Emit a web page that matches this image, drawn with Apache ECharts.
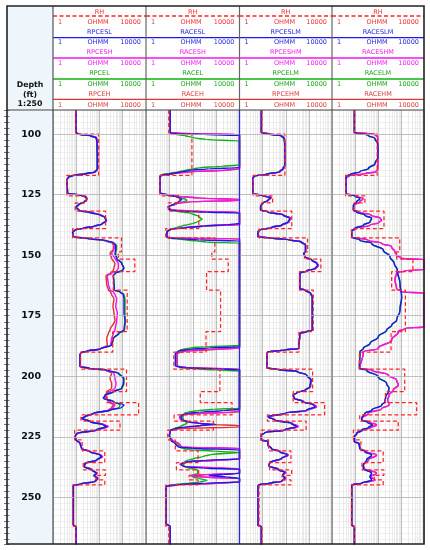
<!DOCTYPE html>
<html><head><meta charset="utf-8">
<script src="https://cdn.jsdelivr.net/npm/echarts/dist/echarts.min.js"></script>
<style>html,body{margin:0;padding:0;background:#fff}#c{width:430px;height:550px}</style>
</head><body><div id="c"></div>
<script>
// ---------- DATA ----------
const depthLabels = [100, 125, 150, 175, 200, 225, 250];
const depthMin = 90, depthMax = 269.3;

// RH (formation model, step curve shared by all tracks)
const rhTop = [90,100,117,125.5,128.4,131.8,139,142.8,148.6,151.6,156.8,164.4,181.6,190,197.1,206.4,210.9,216,218.5,222.3,226.3,230.8,235.7,238.7,241,242.8,244.9,262];
const rhVal = [9.4,92,3.9,27,9,182,7,880,650,3300,390,1550,370,15.5,1450,210,4800,16,760,8.5,18,168,20,180,70,168,7,9.4];
const rhBottom = 269.5;

// Track 1: RPCE* curves
const D1 = [90,99.3,100,100.6,101.5,103,110,114.5,115.6,116.3,117,117.7,119,124.3,125.3,126,127,128,129,130.2,131.6,132.3,133.3,134.4,135.8,137.1,138.1,138.8,139.6,140.5,142.3,143.2,143.9,144.9,146,147.5,149.3,151.3,153.4,155.3,156.2,157.5,158.4,161.9,164.4,165.2,166.2,168,171,174,177,180.9,182.3,184.4,187.1,188.8,189.5,190.3,191,196,196.8,197.4,198.8,200.9,203,205,206.4,207.8,209.1,210.5,211.9,212.9,214,215.3,216.7,217.4,218.8,220.1,220.8,222.2,223.6,225,226.3,227.7,229.8,231.2,232.5,233.2,234.6,236,237.3,238.7,240.1,241,242.2,243.5,244.5,245.2,261.5,262.2,269.5];
const RPCESL = [9.8,9.8,12,40,72,78,80,80,64,28, 8,4.6,3.9,4.2,16,26,28,22,13,9.8, 14,39,105,170,190,124,54,20,8.8,7, 7.2,40,200,420,500,500,464,548,900,1130, 1000,464,393,420,430,760,1060,1130,1130,1130, 1250,1130,646,393,334,105,30,16,14.5,14.5, 39,203,646,1130,1060,898,393,173,146,393, 1132,898,283,54,23.8,17,39,146,203,75, 10.4,8.8,9.8,14.5,17,39,105,124,75,23.8, 21.5,46,75,58,81,64,14.5,7.5,7.5,9.8,9.8];
const RPCESH = [9.8,9.8,14,45,75,80,82,82,66,30, 8,4.6,3.9,4.2,17,28,29,22,13,9.8, 14,42,115,180,200,130,58,21,8.8,7, 7.2,40,190,380,464,420,334,464,646,646, 585,334,217,240,283,400,464,548,500,585, 548,464,393,334,300,105,30,16,14.5,14.5, 39,190,420,464,513,464,283,173,190,283, 464,393,240,56,24,17,42,173,240,85, 11,8.8,9.8,15,17,42,115,135,80,25, 22,50,80,62,86,68,15,7.5,7.5,9.8,9.8];
const RPCEL = [9.8,9.8,12,38,70,78,80,80,60,22, 7,4.5,3.9,4.3,17,27,28,21,12,9.8, 13,35,100,175,200,135,60,22,9,7, 7.2,30,150,400,540,540,500,560,950,1060, 950,480,400,430,440,800,1130,1250,1250,1250, 1300,1200,700,400,340,110,32,17,14.5,14.5, 35,180,700,1060,1130,950,420,180,160,420, 762,700,300,60,25,17,40,150,190,70, 10.4,8.8,9.8,14.5,17,38,100,118,72,23, 21,45,72,56,78,60,14,7.5,7.5,9.8,9.8];
const RPCEH = [9.8,9.8,14,45,75,80,82,82,66,30, 8,4.6,3.9,4.2,17,28,29,22,13,9.8, 14,42,115,180,200,130,58,21,8.8,7, 7.2,40,180,350,400,393,283,334,464,420, 393,283,190,203,240,300,334,420,380,420, 464,283,240,203,217,100,30,16,14.5,14.5, 39,180,334,283,334,334,203,190,203,240, 393,334,240,56,24,17,42,173,230,85, 11,8.8,9.8,15,17,42,115,135,80,25, 22,50,80,62,86,68,15,7.5,7.5,9.8,9.8];

// Track 2: RACE* curves
const D2 = [90,99.3,99.7,100.1,100.5,101.5,102.2,102.8,112.7,113.3,113.8,114.3,114.9,115.5,116.2,116.9,117.6,124.3,125.1,125.7,126.4,126.9,127.4,127.9,128.6,130,131.3,131.8,132.2,132.6,134,135.1,136.3,136.9,137.4,137.9,138.5,139.3,140.2,142.4,142.9,143.2,143.7,144.1,144.6,145,187.3,187.8,188.3,188.9,189.6,190.6,195.8,196.5,197,197.4,197.9,213.3,213.6,214.2,214.8,215.3,216,217,218,218.8,219.5,219.9,220.4,221,221.6,222.4,224.6,226.6,227.6,228.5,229.3,229.8,230.4,231,231.5,232.3,233.2,234.2,234.7,235.3,236.3,237.3,238,238.4,239.4,240.1,240.6,241,241.6,242.2,243,243.7,244.2,244.8,245.5,261,262,269.5];
const RACESL = [10.8,10.8,14,300,10000,10000,10000,10000,10000,10000, 10000,500,80,35,15,4.5,4,4,8,18, 28,34,30,25,17,9,10,30,400,10000, 10000,10000,10000,10000,3000,300,60,12,8,7.7, 10,30,200,10000,10000,10000,10000,10000,500,60, 25,18,18,40,2000,10000,10000,10000,10000,2000, 200,60,35,32,35,60,200,930,200,40, 18,11,10,12,17,20,25,100,10000,10000, 10000,10000,10000,10000,300,60,32,40,300,10000, 10000,10000,2000,500,3000,10000,10000,10000,300,20, 7.2,7.2,10.8,10.8];
const RACEL = [10.8,10.8,12,20,45,110,400,10000,10000,1500, 200,110,50,25,10,4.2,4,4,8,20, 35,50,56,40,20,9,10,20,40,80, 180,250,150,100,60,35,20,10,7.7,7.7, 9,20,50,150,400,10000,10000,300,80,35, 24,22,22,35,150,1000,10000,10000,800,150, 60,45,40,38,40,50,56,45,35,25, 16,11,10,12,18,22,28,40,80,1000, 10000,600,270,100,60,45,40,45,70,150, 160,170,120,90,100,200,400,200,60,15, 7.2,7.2,10.8,10.8];
const RACESH = [10.8,10.8,40,10000,10000,10000,10000,10000,10000,10000, 10000,10000,2000,80,15,5,4,4,9,30, 200,10000,10000,60,20,9,12,100,10000,10000, 10000,10000,10000,10000,10000,300,40,12,8,7.7, 15,10000,10000,10000,10000,10000,10000,10000,10000,400, 40,21,21,60,10000,10000,10000,10000,10000,10000, 5000,150,30,27,30,60,250,500,250,60, 20,11,10,14,25,30,35,10000,10000,10000, 10000,10000,10000,10000,1000,50,28,40,5000,10000, 10000,10000,300,75,200,10000,10000,10000,1000,25, 7.2,7.2,10.8,10.8];
const RACEH = [10.8,10.8,30,10000,10000,10000,10000,10000,10000,10000, 10000,10000,3000,100,18,5,4,4,9,30, 150,10000,10000,80,22,9,12,80,10000,10000, 10000,10000,10000,10000,10000,400,50,12,8,7.7, 12,10000,10000,10000,10000,10000,10000,10000,10000,1000, 50,21,21,60,10000,10000,10000,10000,10000,10000, 10000,300,32,30,32,55,200,600,10000,10000, 30,11,10,13,22,25,30,10000,10000,10000, 10000,10000,10000,10000,1500,60,30,40,3000,10000, 10000,10000,500,100,300,10000,10000,10000,1500,25, 7.2,7.2,10.8,10.8];

// Track 3: RPCE*M curves
const D3 = [90,99.3,99.9,100.7,101.8,104,112.8,114.2,115.5,116.5,117.3,118,124.5,125.2,126.2,127.3,128.4,129.7,131.3,132.1,133.4,134.8,136.2,137.6,138.5,139.6,140.3,142.4,142.8,143.5,144.5,145.8,148.6,149.3,150.6,152,153.4,154.1,155.5,156.4,157.5,163.7,164.4,165.8,167.2,181,181.6,182.3,188.5,189.2,189.9,190.6,196.5,197.2,198.1,199.5,201.6,204.3,205.7,206.8,207.8,209.1,210.5,211.9,212.6,214,215.3,216.7,218.1,219.5,220.8,222.2,223.3,224.3,226.3,227,228.4,229.8,231.2,232.5,233.9,235.7,237.1,238.5,239.8,240.9,242,243.4,244.2,244.9,245.5,261.4,262.2,269.5];
const RPCESLM = [8.8,8.8,17,65,85,90,90,77,55,15, 4.5,3.8,3.8,8.8,22,17,10.3,8.2,8.2,17, 77,149,126,65,24,7.4,6.3,6.3,17,126, 480,716,716,600,670,1306,2155,2380,1824,792, 406,406,670,1200,1396,1396,792,406,367,85, 17,15.4,15.4,46,344,792,1220,1100,670,291, 208,230,567,1543,1824,792,90,17,33,176, 291,90,12.2,8.8,8.8,17,17,24,55,118, 65,20,18.8,46,90,72,90,65,20,6.7, 6.3,6.3,8.8,8.8];
const RPCESHM = [8.8,8.8,20,70,88,91,91,80,58,16, 4.5,3.8,3.8,9,24,18,10.5,8.2,8.2,18, 85,165,140,72,26,7.4,6.3,6.3,17,126, 480,716,716,600,680,1350,2300,2600,2000,850, 406,406,670,1200,1396,1396,792,406,367,85, 17,15.4,15.4,46,344,792,1250,1150,720,300, 210,240,600,1800,2155,900,100,18,35,200, 344,100,12.5,8.8,8.8,17,17,24,60,130, 70,20,18.8,50,100,75,100,70,20,6.7, 6.3,6.3,8.8,8.8];
const RPCELM = [8.8,8.8,17,62,84,90,90,75,52,14, 4.5,3.8,3.8,8.8,22,17,10.3,8.2,8.2,16, 75,160,135,70,26,7.4,6.3,6.3,15,110, 450,716,716,610,700,1400,2300,2500,2000,850, 406,406,700,1250,1450,1450,800,406,367,85, 17,15.4,15.4,40,300,800,1300,1200,750,320, 215,240,600,1700,1900,850,100,18,35,180, 291,90,12.2,8.8,8.8,17,17,24,55,118, 65,20,18.8,46,90,72,90,65,20,6.7, 6.3,6.3,8.8,8.8];
const RPCEHM = [8.8,8.8,20,70,88,91,91,80,58,16, 4.5,3.8,3.8,9,24,18,10.5,8.2,8.2,18, 85,165,140,72,26,7.4,6.3,6.3,17,126, 480,716,716,600,680,1350,2300,2600,2000,850, 406,406,670,1200,1396,1396,792,406,367,85, 17,15.4,15.4,46,344,792,1250,1150,720,300, 210,240,600,1800,2155,900,100,18,35,200, 344,100,12.5,8.8,8.8,17,17,24,60,130, 70,20,18.8,50,100,75,100,70,20,6.7, 6.3,6.3,8.8,8.8];

// Track 4: RACE*M curves
const D4 = [90,99.3,99.5,100.4,101.8,103.9,105.9,109.4,112.1,114.2,115.5,116.5,117.3,118,124.5,125.6,126.6,128,129.3,131.3,132.1,133.4,134.8,136.2,137.6,138.9,140,142.4,143.8,145.1,147.9,150.6,153.4,156.2,161.7,167.2,172.7,176.8,178.9,180.9,183.7,186.4,188.5,189.9,196.8,197.4,200.2,203,205,206.4,208.5,210.5,211.9,214,215.3,217.4,218.1,219,220.1,221.2,222.2,223.6,225,227,227.7,229.8,231.2,232.5,234.6,236.7,238,240.1,241.5,242.9,244.2,244.9,261.4,262.2,269.5];
const RACESLM = [9.4,9.4,11.8,38,74,97,100,100,74,38, 16.5,6.5,4.3,4.06,4.06,10,16.5,11.8,8.5,8.5, 11.8,27,53,45,23,10,7.2,7.2,16.5,53, 171,333,513,693,905,1070,905,648,393,238, 103,45,23,16.5,15.5,32,103,238,301,281, 215,201,144,53,27,19.5,19.5,35,57,38, 20,11.8,9.4,9.4,14.9,16,27,53,32,23, 23,53,45,53,19.5,7.2,7.2,9.4,9.4];
const RACELM = [9.4,9.4,11.5,36,72,96,100,100,76,40, 17,6.5,4.3,4.06,4.06,10,16,11.5,8.5,8.5, 11.8,26,52,46,24,10,7.2,7.2,16,52, 170,330,510,690,900,1060,900,650,400,240, 105,46,23,16.5,15.5,31,100,235,300,282, 216,202,146,54,27,19.5,19.5,34,56,38, 20,11.8,9.4,9.4,14.9,16,27,52,32,23, 23,52,45,52,19.5,7.2,7.2,9.4,9.4];
const D4b = [90,99.3,99.6,100.3,101.2,112,114.5,115.5,116.3,117.1,118,124.5,125.6,126.6,128,129.3,131.3,132.1,133.4,134.8,135.5,136.5,137.6,138.9,140,142.4,143.8,145.1,146.5,148.6,150,151.3,151.8,155.9,156.4,157.3,160,163.7,165.1,165.7,179.6,180.2,181.6,185,188.5,189.9,196.8,197.4,199.5,201.6,203.6,205.7,207.8,209.8,211.9,213.4,215.3,217.4,218.1,219,220.1,221.2,222.2,223.6,225,227,227.7,229.8,231.2,232.5,234.6,236.7,238,240.1,241.5,242.9,244.2,244.9,261.4,262.2,269.5];
const RACESHM = [9.4,9.4,40,80,97,100,97,80,25,6, 4.06,4.06,12,23,16,9,8.5,14,50,130, 144,110,45,12,7.2,7.2,38,144,393,548, 648,1070,10000,10000,1493,648,548,648,1070,10000, 10000,1493,765,393,103,23,16.5,53,281,648, 765,464,301,263,301,144,38,20,21,45, 87,50,22,12,9.4,9.4,15,17,32,87, 38,23,25,87,50,74,20,7.2,7.2,9.4,9.4];
const RACEHM = [9.4,9.4,38,78,96,100,97,82,26,6, 4.06,4.06,12,22,16,9,8.5,14,48,125, 140,108,44,12,7.2,7.2,36,140,380,540, 640,1050,10000,10000,1480,640,540,640,1050,10000, 10000,1480,760,390,100,23,16.5,52,275,640, 760,460,300,262,300,142,38,20,21,44, 85,50,22,12,9.4,9.4,15,17,32,85, 38,23,25,85,50,72,20,7.2,7.2,9.4,9.4];

// Header text
const trackNames = [
  ['RH','RPCESL','RPCESH','RPCEL','RPCEH'],
  ['RH','RACESL','RACESH','RACEL','RACEH'],
  ['RH','RPCESLM','RPCESHM','RPCELM','RPCEHM'],
  ['RH','RACESLM','RACESHM','RACELM','RACEHM']
];
const scaleLeft = '1', scaleUnit = 'OHMM', scaleRight = '10000';

// ---------- LAYOUT / STYLE ----------
const PLOT_TOP = 110, PLOT_H = 434;
const trackL = [53, 146, 239.5, 332], trackR = [146, 239.5, 332, 424];
const colRH = '#ff2424', colSL = '#1a1ae8', colSH = '#f014f0', colL = '#10b010', colH = '#e03434';
const rowColors = ['#f03030', '#2a2ad8', '#ee22ee', '#18a818', '#d84040'];
const lineColors = [colRH, colSL, colSH, colL, colH];
const FONT = 'DejaVu Sans';
const smoothByTrack = [0.35, 0.3, 0.45, 0.5];

const curvesByTrack = [
  [[D1, RPCEH, colH], [D1, RPCEL, colL], [D1, RPCESH, colSH], [D1, RPCESL, colSL]],
  [[D2, RACEH, colH], [D2, RACEL, colL], [D2, RACESH, colSH], [D2, RACESL, colSL]],
  [[D3, RPCEHM, colH], [D3, RPCELM, colL], [D3, RPCESHM, colSH], [D3, RPCESLM, colSL]],
  [[D4b, RACEHM, colH], [D4, RACELM, colL], [D4b, RACESHM, colSH], [D4, RACESLM, colSL]]
];
const curveNames = [
  ['RPCEH','RPCEL','RPCESH','RPCESL'],
  ['RACEH','RACEL','RACESH','RACESL'],
  ['RPCEHM','RPCELM','RPCESHM','RPCESLM'],
  ['RACEHM','RACELM','RACESHM','RACESLM']
];

const rhData = [];
for (let i = 0; i < rhTop.length; i++) {
  const bot = i < rhTop.length - 1 ? rhTop[i + 1] : rhBottom;
  rhData.push([rhVal[i], rhTop[i]], [rhVal[i], bot]);
}

const grids = [{left: 7, top: PLOT_TOP, width: 46, height: PLOT_H, show: true, backgroundColor: '#eef6fc', borderWidth: 0, containLabel: false, outerBoundsMode: 'none'}];
const xAxes = [{gridIndex: 0, type: 'value', min: 0, max: 1, show: false}];
const yAxes = [
  {gridIndex: 0, type: 'value', inverse: true, min: depthMin, max: depthMax, interval: 2.5, position: 'right',
   axisLine: {show: false}, splitLine: {show: false},
   axisTick: {show: true, inside: true, length: 3, lineStyle: {color: '#555', width: 0.8}},
   axisLabel: {show: true, inside: true, margin: 12, fontFamily: FONT, fontSize: 9.5, fontWeight: 'bold', color: '#111',
     showMinLabel: true, showMaxLabel: true,
     formatter: v => depthLabels.some(d => Math.abs(d - v) < 0.01) ? String(Math.round(v)) : ''}},
  {gridIndex: 0, type: 'value', inverse: true, min: depthMin, max: depthMax, interval: 2.5, position: 'left',
   axisLine: {show: false}, splitLine: {show: false}, axisLabel: {show: false},
   axisTick: {show: true, inside: true, length: 2.5, lineStyle: {color: '#555', width: 0.8}}}
];
const series = [];

for (let t = 0; t < 4; t++) {
  grids.push({left: trackL[t], top: PLOT_TOP, width: trackR[t] - trackL[t], height: PLOT_H, show: true, backgroundColor: '#fff', borderWidth: 0, containLabel: false, outerBoundsMode: 'none'});
  xAxes.push({gridIndex: t + 1, type: 'log', logBase: 10, min: 1, max: 10000,
    axisLine: {show: false}, axisTick: {show: false}, axisLabel: {show: false},
    splitLine: {show: true, lineStyle: {color: '#adadad', width: 0.8}},
    minorTick: {show: false, splitNumber: 9},
    minorSplitLine: {show: true, lineStyle: {color: '#dedede', width: 0.6}}});
  yAxes.push({gridIndex: t + 1, type: 'value', inverse: true, min: depthMin, max: depthMax, interval: 2.5,
    axisLine: {show: false}, axisTick: {show: false}, axisLabel: {show: false},
    splitLine: {show: true, lineStyle: {color: '#e8e8e8', width: 0.6}}});
  curvesByTrack[t].forEach((c, k) => {
    const s = {
      type: 'line', name: curveNames[t][k], xAxisIndex: t + 1, yAxisIndex: t + 2,
      data: c[0].map((d, j) => [c[1][j], d]),
      showSymbol: false, symbol: 'none', smooth: smoothByTrack[t], smoothMonotone: 'y', clip: true,
      lineStyle: {color: c[2], width: 1.45}, silent: true, animation: false
    };
    if (k === 0) {
      s.markLine = {silent: true, symbol: ['none', 'none'], label: {show: false}, animation: false,
        lineStyle: {color: '#b4b4b4', width: 0.8, type: 'solid'},
        data: depthLabels.map(d => ({yAxis: d}))};
    }
    series.push(s);
  });
  series.push({type: 'line', name: 'RH', xAxisIndex: t + 1, yAxisIndex: t + 2, data: rhData,
    showSymbol: false, symbol: 'none', clip: true, silent: true, animation: false,
    lineStyle: {color: colRH, width: 1.25, type: [4, 2.5]}});
}

// ---------- HEADER & FRAME (graphic) ----------
const nameY = [12.3, 32.7, 52.7, 73.3, 94.3];
const lineY = [16, 37.7, 58, 79, 99.3];
const scaleY = [22.7, 42.7, 63.3, 84, 105];
const g = [];
g.push({type: 'rect', shape: {x: 7, y: 6, width: 46, height: 104}, style: {fill: '#eef6fc'}, z: 1});
[['Depth', 85], ['(ft)', 94.5], ['1:250', 104]].forEach(([s, y]) => {
  g.push({type: 'text', x: 30, y: y, z: 5, style: {text: s, fontFamily: FONT, fontSize: 7.8, fontWeight: 'bold', fill: '#111', align: 'center', verticalAlign: 'middle'}});
});
for (let t = 0; t < 4; t++) {
  const L = trackL[t], R = trackR[t], C = (L + R) / 2;
  for (let r = 0; r < 5; r++) {
    const col = rowColors[r];
    g.push({type: 'text', x: C, y: nameY[r], z: 5, style: {text: trackNames[t][r], fontFamily: FONT, fontSize: 6.5, fill: col, align: 'center', verticalAlign: 'middle'}});
    g.push({type: 'line', z: 5, shape: {x1: L, y1: lineY[r], x2: R, y2: lineY[r]},
      style: {stroke: lineColors[r], lineWidth: 1.3, lineDash: r === 0 ? [4, 2.5] : null}});
    g.push({type: 'text', x: L + 5, y: scaleY[r], z: 5, style: {text: scaleLeft, fontFamily: FONT, fontSize: 6.5, fill: col, align: 'left', verticalAlign: 'middle'}});
    g.push({type: 'text', x: L + 45, y: scaleY[r], z: 5, style: {text: scaleUnit, fontFamily: FONT, fontSize: 6.5, fill: col, align: 'center', verticalAlign: 'middle'}});
    g.push({type: 'text', x: R - 5, y: scaleY[r], z: 5, style: {text: scaleRight, fontFamily: FONT, fontSize: 6.5, fill: col, align: 'right', verticalAlign: 'middle'}});
  }
}
// separators
[146, 239.5, 332].forEach(x => {
  g.push({type: 'line', z: 50, shape: {x1: x, y1: 6, x2: x, y2: PLOT_TOP}, style: {stroke: '#666', lineWidth: 1.2}});
});
g.push({type: 'line', z: 50, shape: {x1: 146, y1: PLOT_TOP, x2: 146, y2: 544}, style: {stroke: '#8c8c8c', lineWidth: 1.5}});
g.push({type: 'line', z: 50, shape: {x1: 239.5, y1: PLOT_TOP, x2: 239.5, y2: 544}, style: {stroke: '#2b2bd0', lineWidth: 1.3}});
g.push({type: 'line', z: 50, shape: {x1: 332, y1: PLOT_TOP, x2: 332, y2: 544}, style: {stroke: '#8c8c8c', lineWidth: 1.5}});
g.push({type: 'line', z: 50, shape: {x1: 53, y1: 6, x2: 53, y2: 544}, style: {stroke: '#555', lineWidth: 1.2}});
g.push({type: 'line', z: 50, shape: {x1: 7, y1: PLOT_TOP, x2: 424, y2: PLOT_TOP}, style: {stroke: '#444', lineWidth: 1.2}});
g.push({type: 'rect', z: 60, shape: {x: 7, y: 6, width: 417, height: 538}, style: {fill: null, stroke: '#222', lineWidth: 1.6}});

const chart = echarts.init(document.getElementById('c'), null, {renderer: 'canvas', width: 430, height: 550});
chart.setOption({
  animation: false,
  backgroundColor: '#ffffff',
  grid: grids, xAxis: xAxes, yAxis: yAxes, series: series,
  graphic: {elements: g}
});
</script></body></html>
